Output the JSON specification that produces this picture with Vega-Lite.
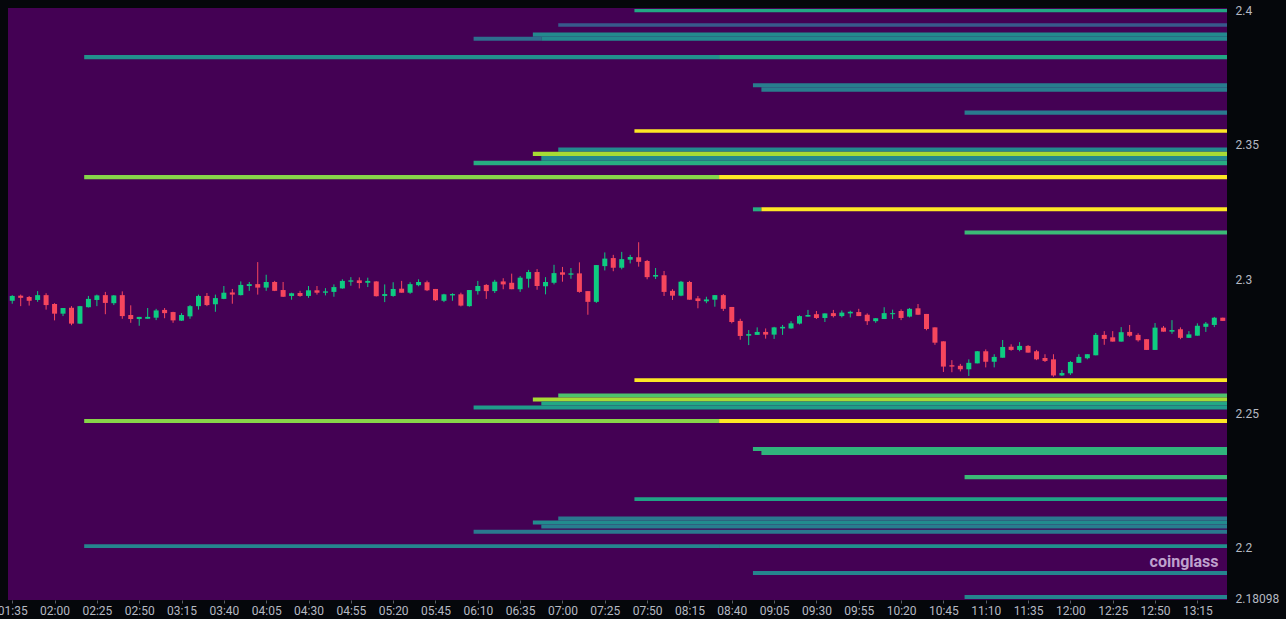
{
"$schema": "https://vega.github.io/schema/vega-lite/v6.json",
"width": 1219, "height": 592,
"autosize": {"type": "none"},
"padding": {"left": 8, "top": 8, "right": 59, "bottom": 19},
"background": "#05070b",
"view": {"fill": "#440154", "stroke": null},
"config": {"font": "Roboto",
 "axisX": {"title": null, "format": "%H:%M", "grid": false, "domain": false, "tickSize": 3, "tickColor": "#5a5e66", "labelPadding": 2, "labelColor": "#b5b9c2", "labelFontSize": 12, "labelFont": "Roboto", "labelFlush": false, "labelOverlap": false, "labelBound": false},
 "axisY": {"title": null, "format": ".6~g", "grid": false, "domain": false, "ticks": false, "labelPadding": 8, "labelColor": "#b5b9c2", "labelFontSize": 12, "labelFont": "Roboto", "labelBound": false, "labelOverlap": false}
},
"datasets": {
"bands": [
{"s":"2024-01-01T07:42:30","e":"2024-01-01T13:32:30","lo":2.3993,"hi":2.4005,"v":0.6},
{"s":"2024-01-01T06:57:30","e":"2024-01-01T13:32:30","lo":2.3939,"hi":2.3952,"v":0.28},
{"s":"2024-01-01T06:42:30","e":"2024-01-01T13:32:30","lo":2.3902,"hi":2.3918,"v":0.47},
{"s":"2024-01-01T06:07:30","e":"2024-01-01T06:47:30","lo":2.3887,"hi":2.3902,"v":0.36},
{"s":"2024-01-01T06:47:30","e":"2024-01-01T13:32:30","lo":2.3887,"hi":2.3902,"v":0.47},
{"s":"2024-01-01T02:17:30","e":"2024-01-01T08:32:30","lo":2.3818,"hi":2.3834,"v":0.5},
{"s":"2024-01-01T08:32:30","e":"2024-01-01T13:32:30","lo":2.3818,"hi":2.3834,"v":0.6},
{"s":"2024-01-01T08:52:30","e":"2024-01-01T13:32:30","lo":2.3714,"hi":2.3729,"v":0.42},
{"s":"2024-01-01T08:57:30","e":"2024-01-01T13:32:30","lo":2.3697,"hi":2.3714,"v":0.42},
{"s":"2024-01-01T10:57:30","e":"2024-01-01T13:32:30","lo":2.3612,"hi":2.3627,"v":0.41},
{"s":"2024-01-01T07:42:30","e":"2024-01-01T13:32:30","lo":2.3545,"hi":2.3558,"v":1},
{"s":"2024-01-01T06:57:30","e":"2024-01-01T13:32:30","lo":2.3474,"hi":2.349,"v":0.47},
{"s":"2024-01-01T06:42:30","e":"2024-01-01T13:32:30","lo":2.3458,"hi":2.3474,"v":0.87},
{"s":"2024-01-01T06:47:30","e":"2024-01-01T13:32:30","lo":2.344,"hi":2.3458,"v":0.47},
{"s":"2024-01-01T06:07:30","e":"2024-01-01T13:32:30","lo":2.3424,"hi":2.344,"v":0.62},
{"s":"2024-01-01T02:17:30","e":"2024-01-01T08:32:30","lo":2.3371,"hi":2.3387,"v":0.82},
{"s":"2024-01-01T08:32:30","e":"2024-01-01T13:32:30","lo":2.3371,"hi":2.3387,"v":1},
{"s":"2024-01-01T08:52:30","e":"2024-01-01T08:57:30","lo":2.3252,"hi":2.3267,"v":0.62},
{"s":"2024-01-01T08:57:30","e":"2024-01-01T13:32:30","lo":2.3252,"hi":2.3267,"v":1},
{"s":"2024-01-01T10:57:30","e":"2024-01-01T13:32:30","lo":2.3166,"hi":2.3181,"v":0.68},
{"s":"2024-01-01T07:42:30","e":"2024-01-01T13:32:30","lo":2.2617,"hi":2.2631,"v":1},
{"s":"2024-01-01T06:57:30","e":"2024-01-01T13:32:30","lo":2.2559,"hi":2.2574,"v":0.72},
{"s":"2024-01-01T06:42:30","e":"2024-01-01T13:32:30","lo":2.2544,"hi":2.2559,"v":0.87},
{"s":"2024-01-01T06:47:30","e":"2024-01-01T13:32:30","lo":2.2529,"hi":2.2544,"v":0.6},
{"s":"2024-01-01T06:07:30","e":"2024-01-01T13:32:30","lo":2.2514,"hi":2.2529,"v":0.55},
{"s":"2024-01-01T02:17:30","e":"2024-01-01T08:32:30","lo":2.2464,"hi":2.2479,"v":0.82},
{"s":"2024-01-01T08:32:30","e":"2024-01-01T13:32:30","lo":2.2464,"hi":2.2479,"v":1},
{"s":"2024-01-01T08:52:30","e":"2024-01-01T13:32:30","lo":2.236,"hi":2.2375,"v":0.65},
{"s":"2024-01-01T08:57:30","e":"2024-01-01T13:32:30","lo":2.2345,"hi":2.236,"v":0.65},
{"s":"2024-01-01T10:57:30","e":"2024-01-01T13:32:30","lo":2.2255,"hi":2.227,"v":0.68},
{"s":"2024-01-01T07:42:30","e":"2024-01-01T13:32:30","lo":2.2174,"hi":2.2188,"v":0.58},
{"s":"2024-01-01T06:57:30","e":"2024-01-01T13:32:30","lo":2.2101,"hi":2.2116,"v":0.4},
{"s":"2024-01-01T06:42:30","e":"2024-01-01T13:32:30","lo":2.2086,"hi":2.2101,"v":0.48},
{"s":"2024-01-01T06:47:30","e":"2024-01-01T13:32:30","lo":2.2071,"hi":2.2086,"v":0.42},
{"s":"2024-01-01T06:07:30","e":"2024-01-01T13:32:30","lo":2.2052,"hi":2.2067,"v":0.4},
{"s":"2024-01-01T02:17:30","e":"2024-01-01T08:32:30","lo":2.1999,"hi":2.2013,"v":0.45},
{"s":"2024-01-01T08:32:30","e":"2024-01-01T13:32:30","lo":2.1999,"hi":2.2013,"v":0.5},
{"s":"2024-01-01T08:52:30","e":"2024-01-01T13:32:30","lo":2.1898,"hi":2.1913,"v":0.45},
{"s":"2024-01-01T10:57:30","e":"2024-01-01T13:32:30","lo":2.1809,"hi":2.1824,"v":0.45}
],
"candles": [
{"t":"2024-01-01T01:35","o":2.2919,"h":2.2940,"l":2.2908,"c":2.2937},
{"t":"2024-01-01T01:40","o":2.2938,"h":2.2942,"l":2.2899,"c":2.2930},
{"t":"2024-01-01T01:45","o":2.2933,"h":2.2937,"l":2.2901,"c":2.2919},
{"t":"2024-01-01T01:50","o":2.2922,"h":2.2955,"l":2.2915,"c":2.2940},
{"t":"2024-01-01T01:55","o":2.2940,"h":2.2947,"l":2.2886,"c":2.2903},
{"t":"2024-01-01T02:00","o":2.2907,"h":2.2910,"l":2.2846,"c":2.2871},
{"t":"2024-01-01T02:05","o":2.2871,"h":2.2892,"l":2.2862,"c":2.2892},
{"t":"2024-01-01T02:10","o":2.2893,"h":2.2899,"l":2.2828,"c":2.2834},
{"t":"2024-01-01T02:15","o":2.2834,"h":2.2900,"l":2.2833,"c":2.2899},
{"t":"2024-01-01T02:20","o":2.2895,"h":2.2937,"l":2.2894,"c":2.2926},
{"t":"2024-01-01T02:25","o":2.2922,"h":2.2942,"l":2.2899,"c":2.2939},
{"t":"2024-01-01T02:30","o":2.2940,"h":2.2952,"l":2.2869,"c":2.2911},
{"t":"2024-01-01T02:35","o":2.2910,"h":2.2940,"l":2.2903,"c":2.2939},
{"t":"2024-01-01T02:40","o":2.2940,"h":2.2954,"l":2.2852,"c":2.2862},
{"t":"2024-01-01T02:45","o":2.2866,"h":2.2902,"l":2.2837,"c":2.2851},
{"t":"2024-01-01T02:50","o":2.2851,"h":2.2859,"l":2.2826,"c":2.2859},
{"t":"2024-01-01T02:55","o":2.2852,"h":2.2892,"l":2.2852,"c":2.2859},
{"t":"2024-01-01T03:00","o":2.2856,"h":2.2889,"l":2.2847,"c":2.2883},
{"t":"2024-01-01T03:05","o":2.2885,"h":2.2892,"l":2.2854,"c":2.2873},
{"t":"2024-01-01T03:10","o":2.2877,"h":2.2878,"l":2.2837,"c":2.2846},
{"t":"2024-01-01T03:15","o":2.2845,"h":2.2873,"l":2.2844,"c":2.2866},
{"t":"2024-01-01T03:20","o":2.2861,"h":2.2903,"l":2.2852,"c":2.2899},
{"t":"2024-01-01T03:25","o":2.2899,"h":2.2942,"l":2.2886,"c":2.2937},
{"t":"2024-01-01T03:30","o":2.2937,"h":2.2948,"l":2.2899,"c":2.2903},
{"t":"2024-01-01T03:35","o":2.2906,"h":2.2942,"l":2.2878,"c":2.2929},
{"t":"2024-01-01T03:40","o":2.2926,"h":2.2974,"l":2.2925,"c":2.2949},
{"t":"2024-01-01T03:45","o":2.2950,"h":2.2963,"l":2.2908,"c":2.2942},
{"t":"2024-01-01T03:50","o":2.2940,"h":2.2991,"l":2.2939,"c":2.2978},
{"t":"2024-01-01T03:55","o":2.2974,"h":2.2989,"l":2.2956,"c":2.2981},
{"t":"2024-01-01T04:00","o":2.2981,"h":2.3063,"l":2.2942,"c":2.2968},
{"t":"2024-01-01T04:05","o":2.2968,"h":2.3016,"l":2.2956,"c":2.2989},
{"t":"2024-01-01T04:10","o":2.2989,"h":2.2993,"l":2.2955,"c":2.2956},
{"t":"2024-01-01T04:15","o":2.2959,"h":2.2989,"l":2.2933,"c":2.2934},
{"t":"2024-01-01T04:20","o":2.2937,"h":2.2949,"l":2.2923,"c":2.2947},
{"t":"2024-01-01T04:25","o":2.2948,"h":2.2956,"l":2.2934,"c":2.2937},
{"t":"2024-01-01T04:30","o":2.2937,"h":2.2974,"l":2.2930,"c":2.2958},
{"t":"2024-01-01T04:35","o":2.2958,"h":2.2974,"l":2.2942,"c":2.2949},
{"t":"2024-01-01T04:40","o":2.2949,"h":2.2966,"l":2.2939,"c":2.2954},
{"t":"2024-01-01T04:45","o":2.2952,"h":2.2980,"l":2.2934,"c":2.2970},
{"t":"2024-01-01T04:50","o":2.2965,"h":2.2999,"l":2.2964,"c":2.2993},
{"t":"2024-01-01T04:55","o":2.2990,"h":2.3007,"l":2.2975,"c":2.2995},
{"t":"2024-01-01T05:00","o":2.2995,"h":2.3006,"l":2.2965,"c":2.2985},
{"t":"2024-01-01T05:05","o":2.2986,"h":2.3005,"l":2.2970,"c":2.2993},
{"t":"2024-01-01T05:10","o":2.2991,"h":2.2992,"l":2.2935,"c":2.2936},
{"t":"2024-01-01T05:15","o":2.2937,"h":2.2980,"l":2.2914,"c":2.2944},
{"t":"2024-01-01T05:20","o":2.2937,"h":2.2988,"l":2.2934,"c":2.2963},
{"t":"2024-01-01T05:25","o":2.2964,"h":2.2993,"l":2.2949,"c":2.2949},
{"t":"2024-01-01T05:30","o":2.2949,"h":2.2988,"l":2.2945,"c":2.2981},
{"t":"2024-01-01T05:35","o":2.2977,"h":2.2999,"l":2.2973,"c":2.2989},
{"t":"2024-01-01T05:40","o":2.2988,"h":2.2994,"l":2.2955,"c":2.2958},
{"t":"2024-01-01T05:45","o":2.2963,"h":2.2963,"l":2.2918,"c":2.2921},
{"t":"2024-01-01T05:50","o":2.2919,"h":2.2945,"l":2.2914,"c":2.2943},
{"t":"2024-01-01T05:55","o":2.2939,"h":2.2947,"l":2.2919,"c":2.2944},
{"t":"2024-01-01T06:00","o":2.2943,"h":2.2949,"l":2.2898,"c":2.2901},
{"t":"2024-01-01T06:05","o":2.2899,"h":2.2959,"l":2.2897,"c":2.2959},
{"t":"2024-01-01T06:10","o":2.2955,"h":2.2993,"l":2.2942,"c":2.2974},
{"t":"2024-01-01T06:15","o":2.2978,"h":2.2981,"l":2.2926,"c":2.2955},
{"t":"2024-01-01T06:20","o":2.2955,"h":2.2997,"l":2.2948,"c":2.2990},
{"t":"2024-01-01T06:25","o":2.2991,"h":2.3003,"l":2.2962,"c":2.2980},
{"t":"2024-01-01T06:30","o":2.2986,"h":2.3020,"l":2.2962,"c":2.2962},
{"t":"2024-01-01T06:35","o":2.2962,"h":2.3011,"l":2.2952,"c":2.3005},
{"t":"2024-01-01T06:40","o":2.3001,"h":2.3034,"l":2.2968,"c":2.3026},
{"t":"2024-01-01T06:45","o":2.3026,"h":2.3037,"l":2.2960,"c":2.2974},
{"t":"2024-01-01T06:50","o":2.2973,"h":2.3007,"l":2.2943,"c":2.2989},
{"t":"2024-01-01T06:55","o":2.2986,"h":2.3053,"l":2.2980,"c":2.3022},
{"t":"2024-01-01T07:00","o":2.3025,"h":2.3045,"l":2.2990,"c":2.3016},
{"t":"2024-01-01T07:05","o":2.3016,"h":2.3041,"l":2.3001,"c":2.3021},
{"t":"2024-01-01T07:10","o":2.3021,"h":2.3062,"l":2.2949,"c":2.2952},
{"t":"2024-01-01T07:15","o":2.2955,"h":2.2955,"l":2.2867,"c":2.2915},
{"t":"2024-01-01T07:20","o":2.2915,"h":2.3052,"l":2.2911,"c":2.3052},
{"t":"2024-01-01T07:25","o":2.3048,"h":2.3099,"l":2.3032,"c":2.3076},
{"t":"2024-01-01T07:30","o":2.3078,"h":2.3090,"l":2.3029,"c":2.3042},
{"t":"2024-01-01T07:35","o":2.3042,"h":2.3101,"l":2.3036,"c":2.3074},
{"t":"2024-01-01T07:40","o":2.3072,"h":2.3090,"l":2.3058,"c":2.3082},
{"t":"2024-01-01T07:45","o":2.3081,"h":2.3137,"l":2.3046,"c":2.3064},
{"t":"2024-01-01T07:50","o":2.3067,"h":2.3071,"l":2.2999,"c":2.3007},
{"t":"2024-01-01T07:55","o":2.3009,"h":2.3041,"l":2.3000,"c":2.3015},
{"t":"2024-01-01T08:00","o":2.3014,"h":2.3030,"l":2.2937,"c":2.2952},
{"t":"2024-01-01T08:05","o":2.2956,"h":2.2962,"l":2.2922,"c":2.2938},
{"t":"2024-01-01T08:10","o":2.2938,"h":2.2993,"l":2.2936,"c":2.2990},
{"t":"2024-01-01T08:15","o":2.2989,"h":2.2993,"l":2.2923,"c":2.2923},
{"t":"2024-01-01T08:20","o":2.2928,"h":2.2937,"l":2.2891,"c":2.2918},
{"t":"2024-01-01T08:25","o":2.2917,"h":2.2934,"l":2.2910,"c":2.2924},
{"t":"2024-01-01T08:30","o":2.2923,"h":2.2940,"l":2.2897,"c":2.2940},
{"t":"2024-01-01T08:35","o":2.2940,"h":2.2944,"l":2.2881,"c":2.2889},
{"t":"2024-01-01T08:40","o":2.2896,"h":2.2896,"l":2.2835,"c":2.2840},
{"t":"2024-01-01T08:45","o":2.2844,"h":2.2852,"l":2.2774,"c":2.2788},
{"t":"2024-01-01T08:50","o":2.2789,"h":2.2810,"l":2.2754,"c":2.2795},
{"t":"2024-01-01T08:55","o":2.2792,"h":2.2820,"l":2.2792,"c":2.2803},
{"t":"2024-01-01T09:00","o":2.2803,"h":2.2816,"l":2.2778,"c":2.2793},
{"t":"2024-01-01T09:05","o":2.2793,"h":2.2822,"l":2.2777,"c":2.2820},
{"t":"2024-01-01T09:10","o":2.2816,"h":2.2829,"l":2.2792,"c":2.2822},
{"t":"2024-01-01T09:15","o":2.2816,"h":2.2843,"l":2.2815,"c":2.2835},
{"t":"2024-01-01T09:20","o":2.2834,"h":2.2865,"l":2.2831,"c":2.2862},
{"t":"2024-01-01T09:25","o":2.2860,"h":2.2885,"l":2.2860,"c":2.2866},
{"t":"2024-01-01T09:30","o":2.2869,"h":2.2881,"l":2.2851,"c":2.2855},
{"t":"2024-01-01T09:35","o":2.2855,"h":2.2872,"l":2.2840,"c":2.2872},
{"t":"2024-01-01T09:40","o":2.2873,"h":2.2885,"l":2.2857,"c":2.2862},
{"t":"2024-01-01T09:45","o":2.2862,"h":2.2883,"l":2.2857,"c":2.2875},
{"t":"2024-01-01T09:50","o":2.2872,"h":2.2882,"l":2.2857,"c":2.2878},
{"t":"2024-01-01T09:55","o":2.2877,"h":2.2889,"l":2.2862,"c":2.2862},
{"t":"2024-01-01T10:00","o":2.2867,"h":2.2872,"l":2.2829,"c":2.2843},
{"t":"2024-01-01T10:05","o":2.2843,"h":2.2854,"l":2.2837,"c":2.2854},
{"t":"2024-01-01T10:10","o":2.2851,"h":2.2895,"l":2.2851,"c":2.2873},
{"t":"2024-01-01T10:15","o":2.2869,"h":2.2886,"l":2.2851,"c":2.2873},
{"t":"2024-01-01T10:20","o":2.2881,"h":2.2887,"l":2.2847,"c":2.2855},
{"t":"2024-01-01T10:25","o":2.2860,"h":2.2892,"l":2.2857,"c":2.2889},
{"t":"2024-01-01T10:30","o":2.2891,"h":2.2907,"l":2.2867,"c":2.2867},
{"t":"2024-01-01T10:35","o":2.2870,"h":2.2870,"l":2.2809,"c":2.2814},
{"t":"2024-01-01T10:40","o":2.2820,"h":2.2820,"l":2.2755,"c":2.2763},
{"t":"2024-01-01T10:45","o":2.2768,"h":2.2768,"l":2.2654,"c":2.2674},
{"t":"2024-01-01T10:50","o":2.2679,"h":2.2698,"l":2.2653,"c":2.2674},
{"t":"2024-01-01T10:55","o":2.2677,"h":2.2684,"l":2.2656,"c":2.2664},
{"t":"2024-01-01T11:00","o":2.2664,"h":2.2701,"l":2.2639,"c":2.2688},
{"t":"2024-01-01T11:05","o":2.2686,"h":2.2732,"l":2.2686,"c":2.2731},
{"t":"2024-01-01T11:10","o":2.2731,"h":2.2738,"l":2.2671,"c":2.2692},
{"t":"2024-01-01T11:15","o":2.2692,"h":2.2720,"l":2.2671,"c":2.2710},
{"t":"2024-01-01T11:20","o":2.2707,"h":2.2773,"l":2.2707,"c":2.2747},
{"t":"2024-01-01T11:25","o":2.2748,"h":2.2757,"l":2.2733,"c":2.2736},
{"t":"2024-01-01T11:30","o":2.2736,"h":2.2765,"l":2.2731,"c":2.2751},
{"t":"2024-01-01T11:35","o":2.2751,"h":2.2754,"l":2.2726,"c":2.2726},
{"t":"2024-01-01T11:40","o":2.2731,"h":2.2736,"l":2.2698,"c":2.2701},
{"t":"2024-01-01T11:45","o":2.2706,"h":2.2720,"l":2.2691,"c":2.2695},
{"t":"2024-01-01T11:50","o":2.2701,"h":2.2720,"l":2.2636,"c":2.2641},
{"t":"2024-01-01T11:55","o":2.2641,"h":2.2661,"l":2.2639,"c":2.2650},
{"t":"2024-01-01T12:00","o":2.2649,"h":2.2695,"l":2.2643,"c":2.2691},
{"t":"2024-01-01T12:05","o":2.2688,"h":2.2720,"l":2.2688,"c":2.2710},
{"t":"2024-01-01T12:10","o":2.2705,"h":2.2720,"l":2.2701,"c":2.2720},
{"t":"2024-01-01T12:15","o":2.2716,"h":2.2799,"l":2.2716,"c":2.2792},
{"t":"2024-01-01T12:20","o":2.2792,"h":2.2806,"l":2.2755,"c":2.2777},
{"t":"2024-01-01T12:25","o":2.2783,"h":2.2806,"l":2.2767,"c":2.2767},
{"t":"2024-01-01T12:30","o":2.2767,"h":2.2821,"l":2.2767,"c":2.2802},
{"t":"2024-01-01T12:35","o":2.2803,"h":2.2829,"l":2.2785,"c":2.2789},
{"t":"2024-01-01T12:40","o":2.2792,"h":2.2798,"l":2.2767,"c":2.2772},
{"t":"2024-01-01T12:45","o":2.2776,"h":2.2776,"l":2.2736,"c":2.2736},
{"t":"2024-01-01T12:50","o":2.2736,"h":2.2836,"l":2.2736,"c":2.2819},
{"t":"2024-01-01T12:55","o":2.2819,"h":2.2825,"l":2.2804,"c":2.2804},
{"t":"2024-01-01T13:00","o":2.2804,"h":2.2847,"l":2.2796,"c":2.2810},
{"t":"2024-01-01T13:05","o":2.2813,"h":2.2820,"l":2.2776,"c":2.2781},
{"t":"2024-01-01T13:10","o":2.2781,"h":2.2806,"l":2.2781,"c":2.2794},
{"t":"2024-01-01T13:15","o":2.2789,"h":2.2835,"l":2.2789,"c":2.2826},
{"t":"2024-01-01T13:20","o":2.2822,"h":2.2840,"l":2.2803,"c":2.2834},
{"t":"2024-01-01T13:25","o":2.2829,"h":2.2859,"l":2.2821,"c":2.2856},
{"t":"2024-01-01T13:30","o":2.2856,"h":2.2856,"l":2.2844,"c":2.2844}
],
"mark": [
{"t":"2024-01-01T13:27:30","p":2.1946,"label":"coinglass"}
]
},
"layer": [
{"data": {"name": "bands"},
 "mark": {"type": "rect", "clip": true},
 "encoding": {
  "x": {"field": "s", "type": "temporal",
   "scale": {"domain": [{"year":2024,"month":1,"date":1,"hours":1,"minutes":32,"seconds":30},{"year":2024,"month":1,"date":1,"hours":13,"minutes":32,"seconds":30}], "padding": 0, "nice": false},
   "axis": {
    "values": [
     {"year":2024,"month":1,"date":1,"hours":1,"minutes":35},
     {"year":2024,"month":1,"date":1,"hours":2,"minutes":0},
     {"year":2024,"month":1,"date":1,"hours":2,"minutes":25},
     {"year":2024,"month":1,"date":1,"hours":2,"minutes":50},
     {"year":2024,"month":1,"date":1,"hours":3,"minutes":15},
     {"year":2024,"month":1,"date":1,"hours":3,"minutes":40},
     {"year":2024,"month":1,"date":1,"hours":4,"minutes":5},
     {"year":2024,"month":1,"date":1,"hours":4,"minutes":30},
     {"year":2024,"month":1,"date":1,"hours":4,"minutes":55},
     {"year":2024,"month":1,"date":1,"hours":5,"minutes":20},
     {"year":2024,"month":1,"date":1,"hours":5,"minutes":45},
     {"year":2024,"month":1,"date":1,"hours":6,"minutes":10},
     {"year":2024,"month":1,"date":1,"hours":6,"minutes":35},
     {"year":2024,"month":1,"date":1,"hours":7,"minutes":0},
     {"year":2024,"month":1,"date":1,"hours":7,"minutes":25},
     {"year":2024,"month":1,"date":1,"hours":7,"minutes":50},
     {"year":2024,"month":1,"date":1,"hours":8,"minutes":15},
     {"year":2024,"month":1,"date":1,"hours":8,"minutes":40},
     {"year":2024,"month":1,"date":1,"hours":9,"minutes":5},
     {"year":2024,"month":1,"date":1,"hours":9,"minutes":30},
     {"year":2024,"month":1,"date":1,"hours":9,"minutes":55},
     {"year":2024,"month":1,"date":1,"hours":10,"minutes":20},
     {"year":2024,"month":1,"date":1,"hours":10,"minutes":45},
     {"year":2024,"month":1,"date":1,"hours":11,"minutes":10},
     {"year":2024,"month":1,"date":1,"hours":11,"minutes":35},
     {"year":2024,"month":1,"date":1,"hours":12,"minutes":0},
     {"year":2024,"month":1,"date":1,"hours":12,"minutes":25},
     {"year":2024,"month":1,"date":1,"hours":12,"minutes":50},
     {"year":2024,"month":1,"date":1,"hours":13,"minutes":15}
    ]}},
  "x2": {"field": "e"},
  "y": {"field": "lo", "type": "quantitative",
   "scale": {"domain": [2.1805, 2.4009], "zero": false, "nice": false, "padding": 0},
   "axis": {"orient": "right", "values": [2.18098, 2.2, 2.25, 2.3, 2.35, 2.4]}},
  "y2": {"field": "hi"},
  "color": {"field": "v", "type": "quantitative", "scale": {"scheme": "viridis", "domain": [0, 1]}, "legend": null}
 }},
{"data": {"name": "candles"},
 "mark": {"type": "rule", "strokeWidth": 1, "clip": true},
 "encoding": {
  "x": {"field": "t", "type": "temporal"},
  "y": {"field": "l", "type": "quantitative", "axis": {"orient": "right", "values": [2.18098, 2.2, 2.25, 2.3, 2.35, 2.4]}},
  "y2": {"field": "h"},
  "color": {"condition": {"test": "datum.c >= datum.o", "value": "#0ecb81"}, "value": "#f6465d"}
 }},
{"data": {"name": "candles"},
 "mark": {"type": "bar", "size": 5, "clip": true},
 "encoding": {
  "x": {"field": "t", "type": "temporal"},
  "y": {"field": "o", "type": "quantitative", "axis": {"orient": "right", "values": [2.18098, 2.2, 2.25, 2.3, 2.35, 2.4]}},
  "y2": {"field": "c"},
  "color": {"condition": {"test": "datum.c >= datum.o", "value": "#0ecb81"}, "value": "#f6465d"}
 }},
{"data": {"name": "mark"},
 "mark": {"type": "text", "align": "right", "baseline": "middle", "fontSize": 16, "fontWeight": "bold", "font": "Roboto", "color": "#d4bde2", "opacity": 0.85},
 "encoding": {
  "x": {"field": "t", "type": "temporal"},
  "y": {"field": "p", "type": "quantitative", "axis": {"orient": "right", "values": [2.18098, 2.2, 2.25, 2.3, 2.35, 2.4]}},
  "text": {"field": "label"}
 }}
]
}
